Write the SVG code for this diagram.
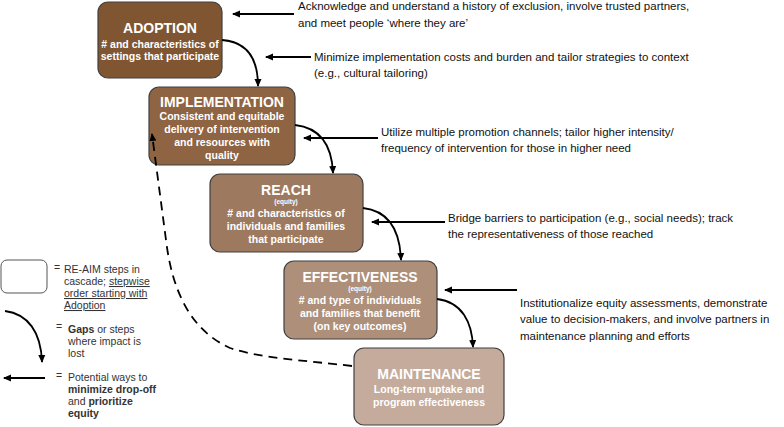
<svg xmlns="http://www.w3.org/2000/svg" width="784" height="427" viewBox="0 0 784 427">
<style>
.box{stroke:#404040;stroke-width:1.2}
.t{font-family:"Liberation Sans",Arial,sans-serif;fill:#fff;font-weight:bold;text-anchor:middle}
.h{font-size:14px}.d{font-size:10.5px}.e{font-size:6.5px}
.n{font-family:"Liberation Sans",Arial,sans-serif;font-size:11.5px;fill:#111}
.l{font-family:"Liberation Sans",Arial,sans-serif;font-size:10.5px;fill:#333}
.c{fill:none;stroke:#000;stroke-width:1.8}
</style>
<defs>
<marker id="a" markerWidth="8" markerHeight="8" refX="7" refY="4" orient="auto" markerUnits="userSpaceOnUse"><path d="M0,0.5L8,4L0,7.5z" fill="#000"/></marker>
</defs>
<rect width="784" height="427" fill="#fff"/>
<g id="adoption"><rect class="box" x="98" y="2" width="124" height="76" rx="10" fill="#7f5631"/>
<text class="t h" x="160" y="33">ADOPTION</text>
<text class="t d" x="160" y="48"># and characteristics of</text>
<text class="t d" x="160" y="60">settings that participate</text></g>
<g id="implementation"><rect class="box" x="149" y="87" width="146" height="78" rx="10" fill="#8e6443"/>
<text class="t h" x="222" y="107">IMPLEMENTATION</text>
<text class="t d" x="222" y="120">Consistent and equitable</text>
<text class="t d" x="222" y="133">delivery of intervention</text>
<text class="t d" x="222" y="146">and resources with</text>
<text class="t d" x="222" y="159">quality</text></g>
<g id="reach"><rect class="box" x="210" y="174" width="153" height="78" rx="10" fill="#9d7a5f"/>
<text class="t h" x="286" y="195">REACH</text>
<text class="t e" x="286" y="204">(equity)</text>
<text class="t d" x="286" y="217"># and characteristics of</text>
<text class="t d" x="286" y="230">individuals and families</text>
<text class="t d" x="286" y="243">that participate</text></g>
<g id="effectiveness"><rect class="box" x="284" y="261" width="153" height="78" rx="10" fill="#ae8f7a"/>
<text class="t h" x="360" y="282">EFFECTIVENESS</text>
<text class="t e" x="360" y="291">(equity)</text>
<text class="t d" x="360" y="304"># and type of individuals</text>
<text class="t d" x="360" y="317">and families that benefit</text>
<text class="t d" x="360" y="330">(on key outcomes)</text></g>
<g id="maintenance"><rect class="box" x="354" y="348" width="150" height="77" rx="10" fill="#c5ab9b"/>
<text class="t h" x="429" y="379">MAINTENANCE</text>
<text class="t d" x="429" y="393">Long-term uptake and</text>
<text class="t d" x="429" y="406">program effectiveness</text></g>
<g id="connectors">
<path class="c" d="M222,40 C250,42 258,62 258,86" marker-end="url(#a)"/>
<path class="c" d="M295,125 C322,128 332,148 333,173" marker-end="url(#a)"/>
<path class="c" d="M363,208 C390,211 400,232 401,260" marker-end="url(#a)"/>
<path class="c" d="M437,299 C462,302 472,322 473,347" marker-end="url(#a)"/>
<path class="c" stroke-dasharray="9,6" d="M352,366 C300,360 260,358 230,348 C190,330 172,290 166,240 L152,134" marker-end="url(#a)"/>
<path class="c" d="M294,14 L233,14" marker-end="url(#a)"/>
<path class="c" d="M311,57 L266,57" marker-end="url(#a)"/>
<path class="c" d="M378,138 L304,138" marker-end="url(#a)"/>
<path class="c" d="M445,222 L372,222" marker-end="url(#a)"/>
<path class="c" d="M517,290 L445,290" marker-end="url(#a)"/>
</g>
<text class="n" x="298" y="10">Acknowledge and understand a history of exclusion, involve trusted partners,</text>
<text class="n" x="298" y="27">and meet people ‘where they are’</text>
<text class="n" x="314" y="61">Minimize implementation costs and burden and tailor strategies to context</text>
<text class="n" x="314" y="77">(e.g., cultural tailoring)</text>
<text class="n" x="381" y="136">Utilize multiple promotion channels; tailor higher intensity/</text>
<text class="n" x="381" y="152">frequency of intervention for those in higher need</text>
<text class="n" x="448" y="222">Bridge barriers to participation (e.g., social needs); track</text>
<text class="n" x="448" y="238">the representativeness of those reached</text>
<text class="n" x="520" y="307">Institutionalize equity assessments, demonstrate</text>
<text class="n" x="520" y="323">value to decision-makers, and involve partners in</text>
<text class="n" x="520" y="340">maintenance planning and efforts</text>
<g id="legend">
<rect x="1" y="260" width="46" height="33" rx="6" fill="#fff" stroke="#555" stroke-width="1"/>
<text class="l" x="54" y="271" font-size="7">=</text>
<text class="l" x="64" y="273">RE-AIM steps in</text>
<text class="l" x="64" y="285">cascade; <tspan text-decoration="underline">stepwise</tspan></text>
<text class="l" x="64" y="297" text-decoration="underline">order starting with</text>
<text class="l" x="64" y="309" text-decoration="underline">Adoption</text>
<path class="c" d="M5,311 C28,314 41,332 42,362" marker-end="url(#a)"/>
<text class="l" x="56" y="330" font-size="7">=</text>
<text class="l" x="68" y="333"><tspan font-weight="bold">Gaps</tspan> or steps</text>
<text class="l" x="68" y="345">where impact is</text>
<text class="l" x="68" y="357">lost</text>
<path class="c" d="M45,378 L4,378" marker-end="url(#a)"/>
<text class="l" x="56" y="379" font-size="7">=</text>
<text class="l" x="68" y="381">Potential ways to</text>
<text class="l" x="68" y="393" font-weight="bold">minimize drop-off</text>
<text class="l" x="68" y="405">and <tspan font-weight="bold">prioritize</tspan></text>
<text class="l" x="68" y="417" font-weight="bold">equity</text>
</g>
</svg>
